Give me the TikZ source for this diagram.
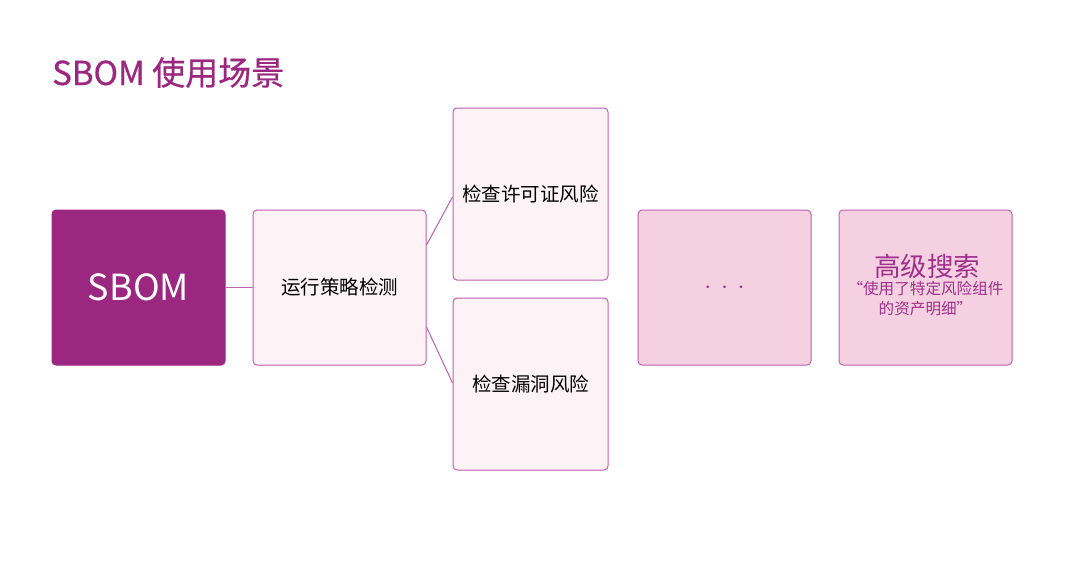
\documentclass[tikz,border=0pt]{standalone}
\usepackage{fontspec}
\setmainfont{Noto Sans CJK SC}
\newfontfamily\heavyfont[FakeBold=0.6]{Noto Sans CJK SC}
\begin{document}
\definecolor{plum}{HTML}{9C2780}
\definecolor{edge}{HTML}{C060B0}
\definecolor{pale}{HTML}{FDF3F7}
\definecolor{pink}{HTML}{F4D0E0}
\definecolor{deep}{HTML}{A0308C}
\begin{tikzpicture}[x=1pt,y=-1pt,
  box/.style={draw=edge,line width=1pt,rounded corners=4pt,inner sep=0pt},
  link/.style={draw=edge,line width=1pt},
  btext/.style={font=\fontsize{19.5}{24}\selectfont}]
\useasboundingbox[fill=white] (0,0) rectangle (1080,576);
\node[anchor=base west,text=plum,font=\heavyfont\fontsize{33}{38}\selectfont,inner sep=0pt] (title) at (52,85) {SBOM 使用场景};
\node[box,fill=plum,draw=plum,minimum width=173pt,minimum height=155pt,text=white,font=\fontsize{36}{40}\selectfont] (sbom) at (138.5,287.5) {SBOM};
\node[box,fill=pale,minimum width=173pt,minimum height=155pt,btext] (run) at (339.5,287.5) {运行策略检测};
\node[box,fill=pale,minimum width=155pt,minimum height=172pt,btext] (lic) at (530.5,194) {检查许可证风险};
\node[box,fill=pale,minimum width=155pt,minimum height=172pt,btext] (vul) at (530.5,384) {检查漏洞风险};
\node[box,fill=pink,minimum width=173pt,minimum height=155pt,text=deep,font=\fontsize{24}{24}\selectfont] (dots) at (724.5,287.5) {$\cdot\,\cdot\,\cdot$};
\node[box,fill=pink,minimum width=173pt,minimum height=155pt] (adv) at (925.5,287.5) {};
\node[text=deep,font=\fontsize{26.5}{30}\selectfont,inner sep=0pt] (advt) at (927,266) {高级搜索};
\node[text=deep,font=\fontsize{15.6}{20}\selectfont,align=center,inner sep=0pt] (advs) at (925.5,299) {“使用了特定风险组件\\的资产明细”};
\draw[link] (sbom.east) -- (run.west);
\draw[link] (run.east |- 0,245) -- (lic.west |- 0,197);
\draw[link] (run.east |- 0,327) -- (vul.west |- 0,383);
\end{tikzpicture}
\end{document}
